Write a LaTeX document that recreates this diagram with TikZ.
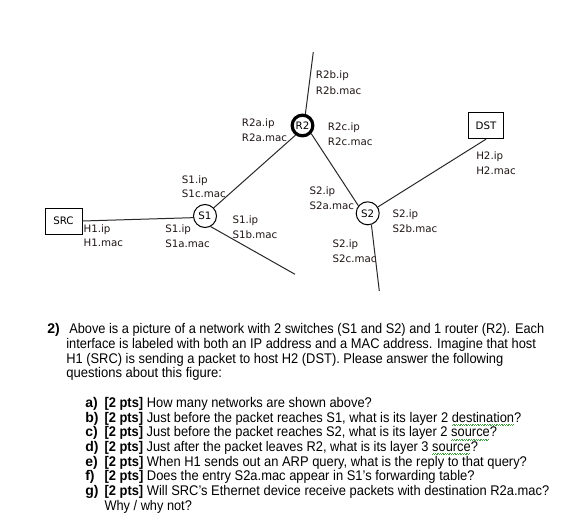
\documentclass[tikz,border=0pt]{standalone}
\usepackage{graphicx}
\usepackage{fontspec}
\setmainfont{Liberation Sans}
\newfontfamily\labfont{DejaVu Sans}
\definecolor{sqg}{RGB}{70,160,70}
\definecolor{linkc}{RGB}{40,40,40}
\definecolor{labc}{RGB}{30,20,20}
\newcommand\wavemark{\textcolor{sqg}{\rule[-2.8pt]{0.7pt}{0.7pt}\rule[-2.1pt]{0.7pt}{0.7pt}}}
\newcommand\squig[1]{\setbox0\hbox{#1}\rlap{\leaders\hbox{\wavemark}\hskip\wd0}\box0}
\newlength\flw
\newcommand\fl[2]{\settowidth\flw{#2}\ifdim\flw>#1\relax\resizebox{#1}{\height}{#2}\else\makebox[#1][s]{#2}\fi}
\tikzset{
  lab/.style={anchor=base west, inner sep=0, font=\labfont\fontsize{7.7}{9}\selectfont, text=labc},
  body/.style={anchor=base west, inner sep=0, font=\fontsize{10.5}{12}\selectfont},
  hostbox/.style={draw, rectangle, inner sep=0, line width=0.75pt, font=\labfont\fontsize{7.7}{9}\selectfont},
  swc/.style={draw, circle, minimum size=17.25pt, inner sep=0, line width=0.75pt, font=\labfont\fontsize{7.7}{9}\selectfont},
  rtc/.style={draw, circle, minimum size=15.5pt, inner sep=0, line width=2.4pt, font=\labfont\fontsize{7.7}{9}\selectfont},
  link/.style={line width=0.75pt, draw=linkc}
}
\begin{document}
\begin{tikzpicture}[x=0.75pt,y=-0.75pt]
\useasboundingbox (0,0) rectangle (573,520);
% devices
\node[hostbox, minimum width=27.75pt, minimum height=19.5pt] (src) at (63.5,221) {SRC};
\node[hostbox, minimum width=26pt, minimum height=19.8pt] (dst) at (486,125.5) {DST};
\node[swc] (s1) at (205,216) {S1};
\node[swc] (s2) at (367.7,213.3) {S2};
\node[rtc] (r2) at (302.5,125.5) {R2};
\coordinate (r2top) at (313.3,52);
\coordinate (s1end) at (295,274.3);
\coordinate (s2end) at (379.3,291);
% links
\draw[link] (src.east) -- (s1.188);
\draw[link] (s1.43) -- (r2.-126);
\draw[link] (r2.-43) -- (s2.141);
\draw[link] (s2.32) -- (dst.south);
\draw[link] (r2.76) -- (r2top);
\draw[link] (s1.-62) -- (s1end);
\draw[link] (s2.-72) -- (s2end);
% interface labels
\node[lab] (h1ip) at (83.3,232) {H1.ip};
\node[lab] (h1mac) at (83.3,246.7) {H1.mac};
\node[lab] (s1cip) at (181.7,183) {S1.ip};
\node[lab] (s1cmac) at (181.7,197.5) {S1c.mac};
\node[lab] (s1aip) at (165,232.3) {S1.ip};
\node[lab] (s1amac) at (165,247) {S1a.mac};
\node[lab] (s1bip) at (232.3,223) {S1.ip};
\node[lab] (s1bmac) at (232.3,238) {S1b.mac};
\node[lab] (r2aip) at (241.7,126.3) {R2a.ip};
\node[lab] (r2amac) at (241.7,141.3) {R2a.mac};
\node[lab] (r2bip) at (315.7,79) {R2b.ip};
\node[lab] (r2bmac) at (315.7,94.7) {R2b.mac};
\node[lab] (r2cip) at (327.7,130.7) {R2c.ip};
\node[lab] (r2cmac) at (327.7,145.7) {R2c.mac};
\node[lab] (s2aip) at (309.3,194.7) {S2.ip};
\node[lab] (s2amac) at (309.3,209.7) {S2a.mac};
\node[lab] (s2bip) at (392.3,217.3) {S2.ip};
\node[lab] (s2bmac) at (392.3,232.3) {S2b.mac};
\node[lab] (s2cip) at (332.3,247.3) {S2.ip};
\node[lab] (s2cmac) at (332.3,262.3) {S2c.mac};
\node[lab] (h2ip) at (476,159.7) {H2.ip};
\node[lab] (h2mac) at (476,174.7) {H2.mac};
% question text
\node[body, font=\fontsize{10.5}{12}\selectfont\bfseries] (qnum) at (47,333.7) {2)};
\node[body] (p1) at (69,333.7) {\fl{356.25pt}{Above is a picture of a network with 2 switches (S1 and S2) and 1 router (R2). Each}};
\node[body] (p2) at (66,348.4) {\fl{352.3pt}{interface is labeled with both an IP address and a MAC address. Imagine that host}};
\node[body] (p3) at (66,363.1) {\fl{327.75pt}{H1 (SRC) is sending a packet to host H2 (DST). Please answer the following}};
\node[body] (p4) at (66,377.8) {\fl{116.8pt}{questions about this figure:}};
% sub-questions
\node[body] (qa) at (85,407.3) {\textbf{a)}};
\node[body] (qb) at (85,422) {\textbf{b)}};
\node[body] (qc) at (85,436.7) {\textbf{c)}};
\node[body] (qd) at (85,451.3) {\textbf{d)}};
\node[body] (qe) at (85,466) {\textbf{e)}};
\node[body] (qf) at (85,480.7) {\textbf{f)}};
\node[body] (qg) at (85,495.3) {\textbf{g)}};
\node[body] (ta) at (104.3,407.3) {\fl{200.5pt}{\textbf{[2 pts]} How many networks are shown above?}};
\node[body] (tb) at (104.3,422) {\fl{312.5pt}{\textbf{[2 pts]} Just before the packet reaches S1, what is its layer 2 \squig{destination}?}};
\node[body] (tc) at (104.3,436.7) {\fl{294.3pt}{\textbf{[2 pts]} Just before the packet reaches S2, what is its layer 2 \squig{source}?}};
\node[body] (td) at (104.3,451.3) {\fl{280pt}{\textbf{[2 pts]} Just after the packet leaves R2, what is its layer 3 \squig{source}?}};
\node[body] (te) at (104.3,466) {\fl{316.8pt}{\textbf{[2 pts]} When H1 sends out an ARP query, what is the reply to that query?}};
\node[body] (tf) at (104.3,480.7) {\fl{277.5pt}{\textbf{[2 pts]} Does the entry S2a.mac appear in S1's forwarding table?}};
\node[body] (tg) at (104.3,495.3) {\fl{333.5pt}{\textbf{[2 pts]} Will SRC's Ethernet device receive packets with destination R2a.mac?}};
\node[body] (tg2) at (104.3,510) {\fl{65.5pt}{Why / why not?}};
\end{tikzpicture}
\end{document}
